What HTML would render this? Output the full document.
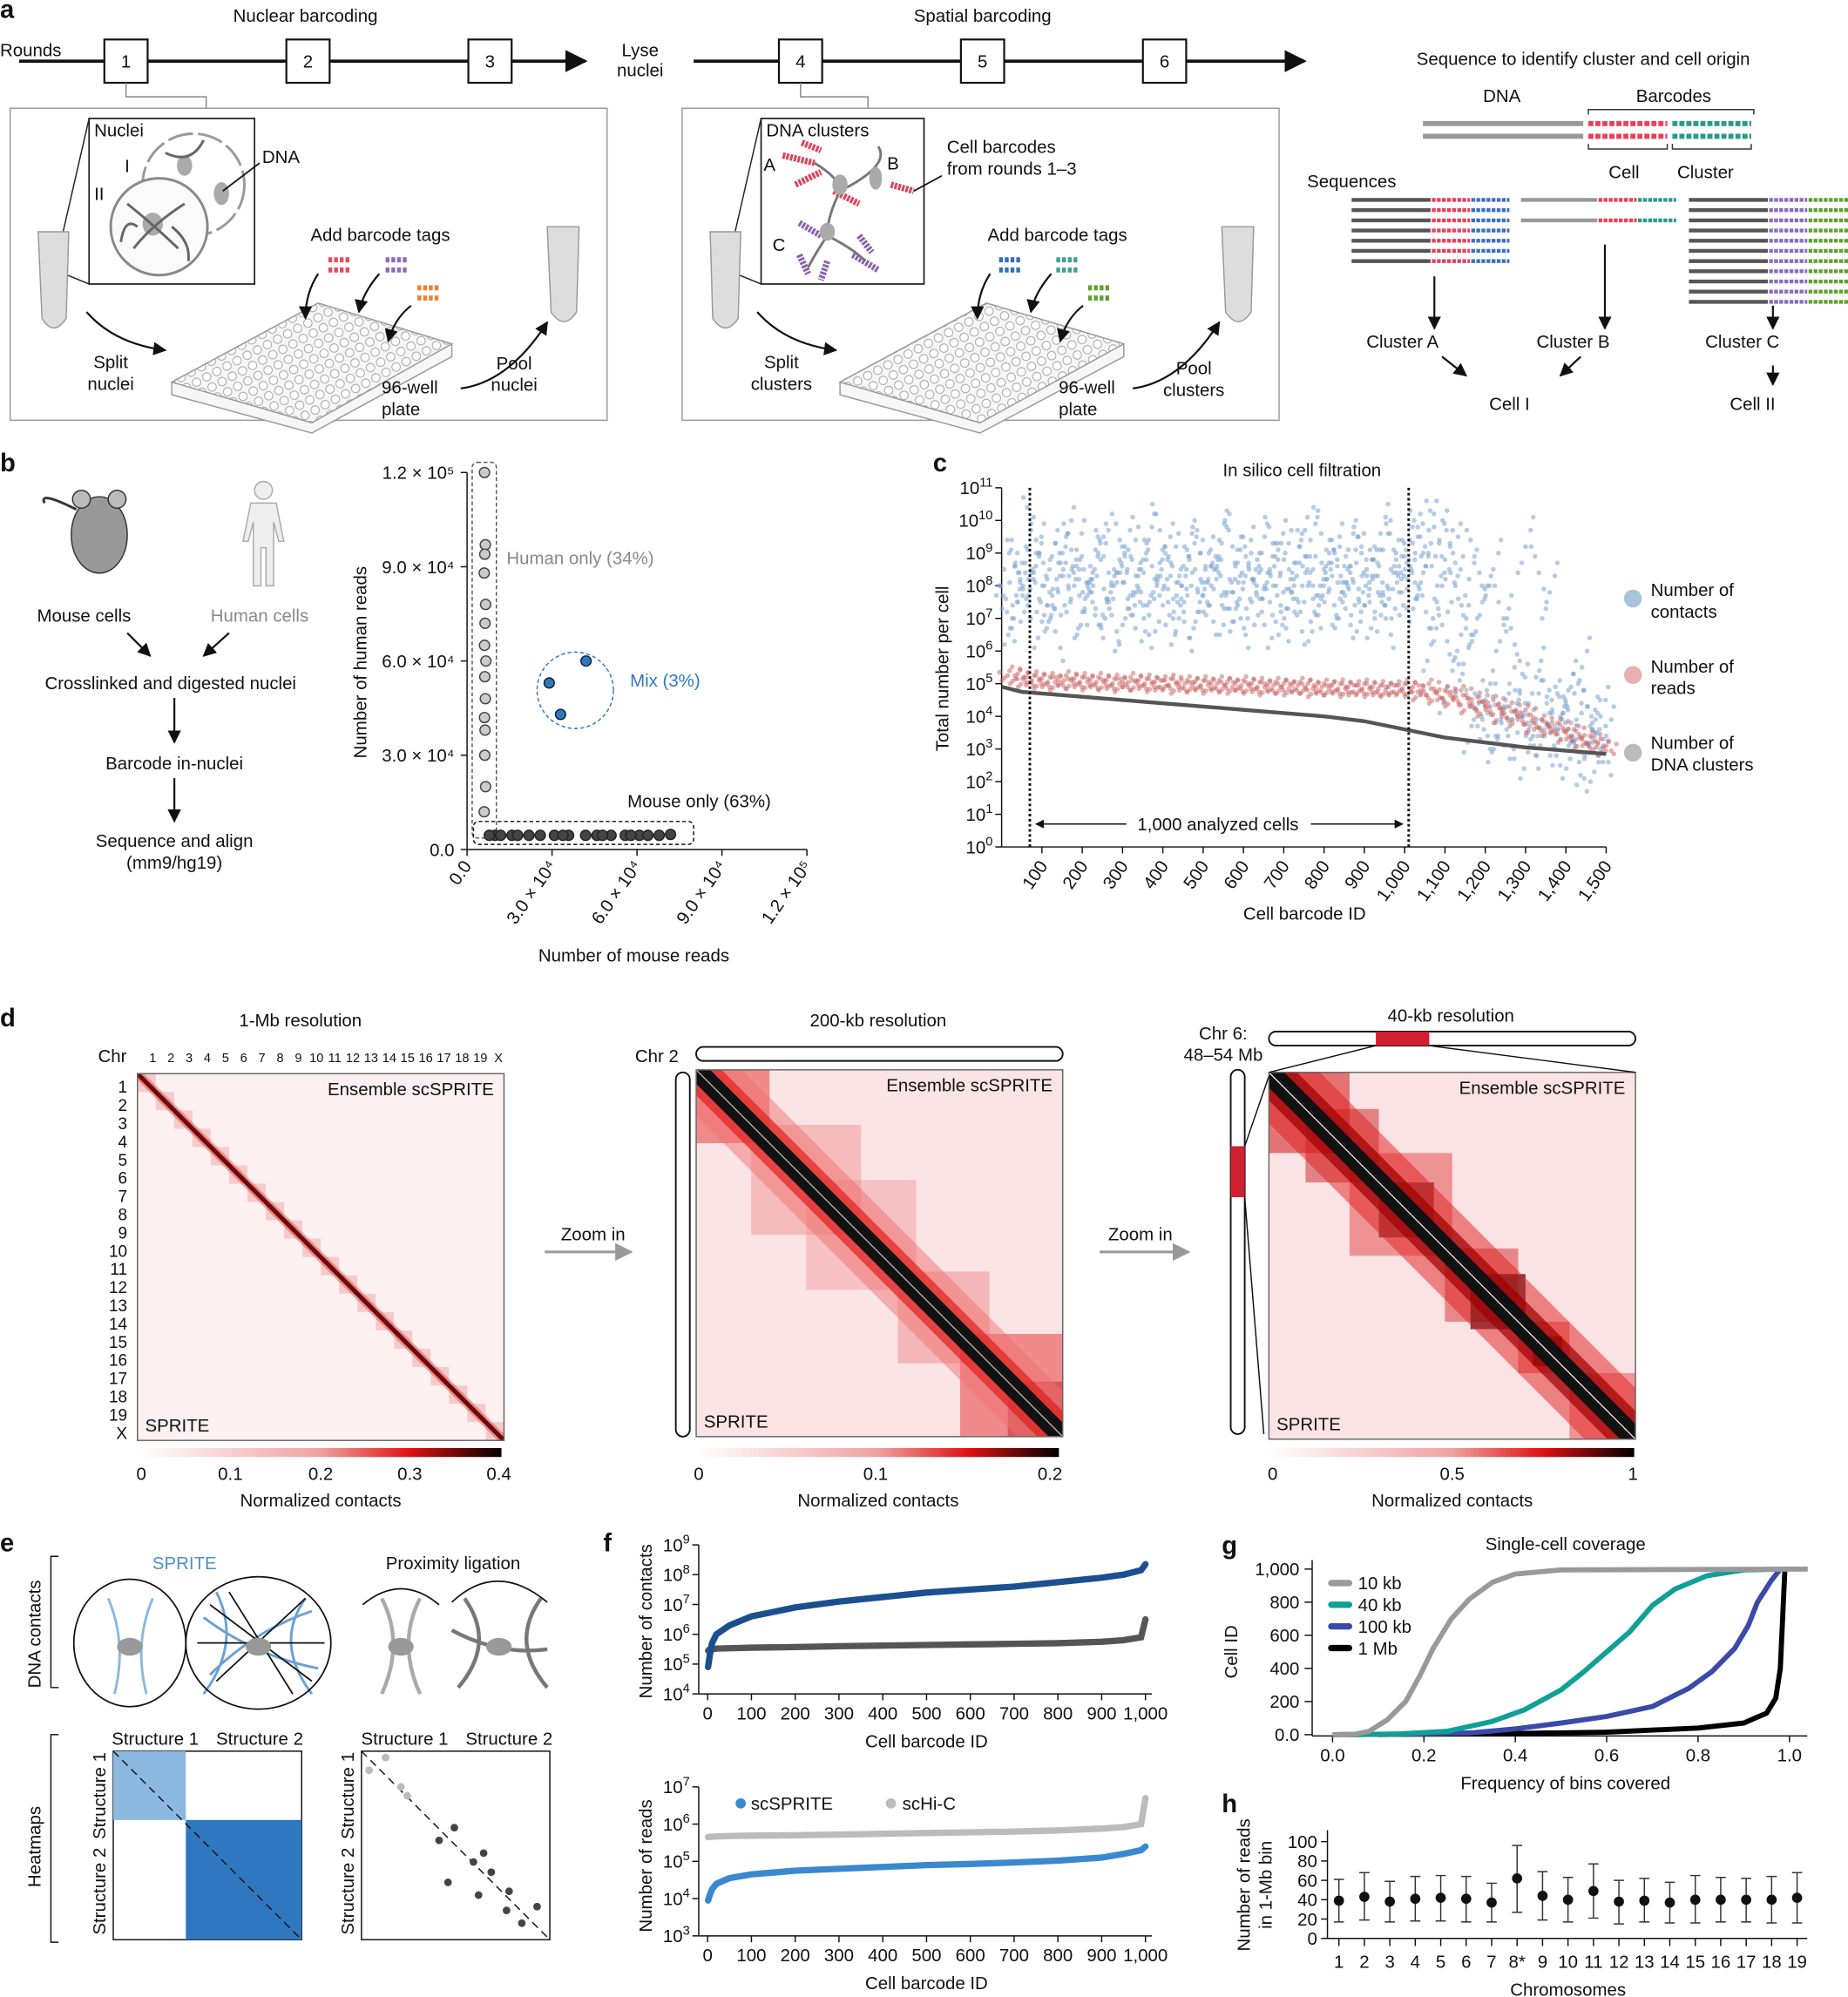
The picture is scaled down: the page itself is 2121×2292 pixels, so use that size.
<!DOCTYPE html>
<html><head><meta charset="utf-8"><style>
html,body{margin:0;padding:0;background:#fff}
svg{display:block;font-family:"Liberation Sans",sans-serif}
text{fill:#111}
</style></head><body>
<svg id="fig" width="2121" height="2292" viewBox="0 0 1452 1568" preserveAspectRatio="none" xmlns="http://www.w3.org/2000/svg" font-size="14">
<defs>
<marker id="ah" viewBox="0 0 10 10" refX="9" refY="5" markerWidth="7" markerHeight="7" orient="auto"><path d="M0,0L10,5L0,10z" fill="#111"/></marker>
<marker id="ahg" viewBox="0 0 10 10" refX="9" refY="5" markerWidth="7" markerHeight="7" orient="auto"><path d="M0,0L10,5L0,10z" fill="#999"/></marker>
<linearGradient id="cb1" x1="0" x2="1"><stop offset="0" stop-color="#fff"/><stop offset="0.5" stop-color="#f0a0a0"/><stop offset="0.75" stop-color="#e01010"/><stop offset="1" stop-color="#000"/></linearGradient>
<pattern id="wells" width="9" height="9" patternUnits="userSpaceOnUse" patternTransform="rotate(-28)"><rect width="9" height="9" fill="#f6f6f6"/><circle cx="4.5" cy="4.5" r="3.3" fill="#fff" stroke="#aaa" stroke-width="0.7"/></pattern>
</defs>

<!-- PANEL A -->
<g>
<text x="0" y="14" font-size="20" font-weight="bold">a</text>
<text x="240" y="17" text-anchor="middle">Nuclear barcoding</text>
<text x="772" y="17" text-anchor="middle">Spatial barcoding</text>
<text x="0" y="44">Rounds</text>
<line x1="15" y1="48" x2="460" y2="48" stroke="#111" stroke-width="2.5" marker-end="url(#ah)"/>
<line x1="545" y1="48" x2="1025" y2="48" stroke="#111" stroke-width="2.5" marker-end="url(#ah)"/>
<text x="503" y="44" text-anchor="middle">Lyse</text><text x="503" y="60" text-anchor="middle">nuclei</text>
<g>
<rect x="82" y="31" width="34" height="34" fill="#fff" stroke="#111" stroke-width="1.5"/><text x="99" y="53" text-anchor="middle">1</text>
<rect x="225" y="31" width="34" height="34" fill="#fff" stroke="#111" stroke-width="1.5"/><text x="242" y="53" text-anchor="middle">2</text>
<rect x="368" y="31" width="34" height="34" fill="#fff" stroke="#111" stroke-width="1.5"/><text x="385" y="53" text-anchor="middle">3</text>
<rect x="612" y="31" width="34" height="34" fill="#fff" stroke="#111" stroke-width="1.5"/><text x="629" y="53" text-anchor="middle">4</text>
<rect x="755" y="31" width="34" height="34" fill="#fff" stroke="#111" stroke-width="1.5"/><text x="772" y="53" text-anchor="middle">5</text>
<rect x="898" y="31" width="34" height="34" fill="#fff" stroke="#111" stroke-width="1.5"/><text x="915" y="53" text-anchor="middle">6</text>
</g>
<polyline points="99,65 99,76 162,76 162,85" fill="none" stroke="#888"/>
<polyline points="629,65 629,76 682,76 682,85" fill="none" stroke="#888"/>
<rect x="8" y="85" width="469" height="245" fill="none" stroke="#999"/>
<rect x="536" y="85" width="469" height="245" fill="none" stroke="#999"/>
<rect x="70" y="93" width="130" height="130" fill="#fff" stroke="#222" stroke-width="1.2"/>
<path d="M70,93L42,215M70,223L38,210" stroke="#222" fill="none"/>
<text x="74" y="107">Nuclei</text><text x="206" y="128">DNA</text><text x="98" y="135">I</text><text x="74" y="157">II</text>
<circle cx="152" cy="145" r="40" fill="none" stroke="#999" stroke-width="2" stroke-dasharray="20,4"/>
<circle cx="125" cy="178" r="38" fill="#fafafa" stroke="#888" stroke-width="2"/>
<ellipse cx="145" cy="130" rx="6" ry="8" fill="#aaa"/><ellipse cx="174" cy="152" rx="6" ry="9" fill="#aaa"/><ellipse cx="120" cy="176" rx="8" ry="9" fill="#aaa"/>
<path d="M100,160 Q120,176 140,195 M105,195 Q120,176 145,160 M130,120 Q150,130 160,110 M135,178 Q150,190 148,205 M108,178 Q98,170 95,190" stroke="#666" stroke-width="2" fill="none"/>
<path d="M204,128 L175,150" stroke="#111" stroke-width="1.2"/>
<rect x="598" y="93" width="128" height="130" fill="#fff" stroke="#222" stroke-width="1.2"/>
<path d="M598,93L570,215M598,223L566,210" stroke="#222" fill="none"/>
<text x="602" y="107">DNA clusters</text><text x="600" y="134">A</text><text x="697" y="133">B</text><text x="607" y="197">C</text>
<text x="744" y="120">Cell barcodes</text><text x="744" y="137">from rounds 1–3</text>
<path d="M740,138 L718,150" stroke="#111" stroke-width="1.2"/>
<g stroke-width="5" fill="none">
<path d="M615,122 L640,128 M625,145 L645,135 M655,150 L675,160 M700,145 L718,150 M630,112 L645,118" stroke="#e0405a" stroke-dasharray="2,1"/>
<path d="M628,175 L645,185 M628,200 L635,215 M650,205 L645,220 M670,200 L690,212 M675,185 L685,198" stroke="#8a60b0" stroke-dasharray="2,1"/>
</g>
<path d="M640,128 Q660,140 660,150 Q650,170 650,185 M660,150 Q700,130 690,115 M650,185 Q640,200 635,210 M650,185 Q670,195 680,205" stroke="#777" stroke-width="2" fill="none"/>
<ellipse cx="660" cy="145" rx="6" ry="8" fill="#aaa"/><ellipse cx="688" cy="140" rx="5" ry="9" fill="#aaa"/><ellipse cx="650" cy="182" rx="6" ry="7" fill="#aaa"/>
<g fill="#ddd" stroke="#999">
<path d="M30,182 L54,182 L52,250 Q42,265 33,250 Z"/><path d="M430,178 L455,178 L453,245 Q443,260 433,245 Z"/>
<path d="M558,182 L582,182 L580,250 Q570,265 560,250 Z"/><path d="M960,178 L985,178 L983,245 Q973,260 963,245 Z"/>
</g>
<g stroke="#999">
<path d="M135,300 L250,238 L355,270 L355,280 L245,340 L135,310 Z" fill="#f6f6f6"/>
<path d="M135,300 L250,238 L355,270 L245,332 Z" fill="url(#wells)"/>
<path d="M660,300 L775,238 L883,270 L883,280 L770,340 L660,310 Z" fill="#f6f6f6"/>
<path d="M660,300 L775,238 L883,270 L770,332 Z" fill="url(#wells)"/>
</g>
<text x="244" y="189">Add barcode tags</text><text x="776" y="189">Add barcode tags</text>
<g stroke-width="4" stroke-dasharray="3,1.5">
<path d="M258,204h18M258,212h18" stroke="#e84a5f"/><path d="M303,204h18M303,212h18" stroke="#8a6ac0"/><path d="M328,226h18M328,234h18" stroke="#f08030"/>
<path d="M785,204h18M785,212h18" stroke="#2f70c0"/><path d="M830,204h18M830,212h18" stroke="#40a090"/><path d="M855,226h18M855,234h18" stroke="#60a030"/>
</g>
<g fill="none" stroke="#111" stroke-width="1.5" marker-end="url(#ah)">
<path d="M250,215 Q240,230 240,250"/><path d="M298,215 Q285,230 282,245"/><path d="M323,240 Q310,250 305,268"/>
<path d="M778,215 Q768,230 768,250"/><path d="M826,215 Q813,230 810,245"/><path d="M851,240 Q838,250 833,268"/>
<path d="M68,245 Q90,270 130,275"/><path d="M362,305 Q400,300 430,253"/>
<path d="M595,245 Q617,270 657,275"/><path d="M890,305 Q928,300 958,253"/>
</g>
<text x="87" y="289" text-anchor="middle">Split</text><text x="87" y="306" text-anchor="middle">nuclei</text>
<text x="322" y="309" text-anchor="middle">96-well</text><text x="315" y="326" text-anchor="middle">plate</text>
<text x="404" y="290" text-anchor="middle">Pool</text><text x="404" y="307" text-anchor="middle">nuclei</text>
<text x="614" y="289" text-anchor="middle">Split</text><text x="614" y="306" text-anchor="middle">clusters</text>
<text x="854" y="309" text-anchor="middle">96-well</text><text x="847" y="326" text-anchor="middle">plate</text>
<text x="938" y="294" text-anchor="middle">Pool</text><text x="938" y="311" text-anchor="middle">clusters</text>
<text x="1244" y="51" text-anchor="middle">Sequence to identify cluster and cell origin</text>
<text x="1180" y="80" text-anchor="middle">DNA</text><text x="1315" y="80" text-anchor="middle">Barcodes</text>
<path d="M1248,90V86H1378V90" fill="none" stroke="#333"/>
<rect x="1118" y="95" width="126" height="4" fill="#999"/><rect x="1118" y="105" width="126" height="4" fill="#999"/>
<g stroke-width="4" stroke-dasharray="4,1.5"><path d="M1248,97h62M1248,107h62" stroke="#e8405a"/><path d="M1314,97h62M1314,107h62" stroke="#2a9a88"/></g>
<path d="M1248,113V117H1310V113M1314,113V117H1376V113" fill="none" stroke="#333"/>
<text x="1276" y="140" text-anchor="middle">Cell</text><text x="1340" y="140" text-anchor="middle">Cluster</text>
<text x="1027" y="147">Sequences</text>
<g stroke-width="3">
<path d="M1062,157h62M1062,165h62M1062,173h62M1062,181h62M1062,189h62M1062,197h62M1062,205h62" stroke="#555"/>
<path d="M1125,157h30M1125,165h30M1125,173h30M1125,181h30M1125,189h30M1125,197h30M1125,205h30" stroke="#e8405a" stroke-dasharray="3,1"/>
<path d="M1156,157h30M1156,165h30M1156,173h30M1156,181h30M1156,189h30M1156,197h30M1156,205h30" stroke="#3a70c0" stroke-dasharray="3,1"/>
<path d="M1195,157h60M1195,173h60" stroke="#999"/><path d="M1256,157h30M1256,173h30" stroke="#e8405a" stroke-dasharray="3,1"/><path d="M1287,157h30M1287,173h30" stroke="#2a9a88" stroke-dasharray="3,1"/>
<path d="M1327,157h62M1327,165h62M1327,173h62M1327,181h62M1327,189h62M1327,197h62M1327,205h62M1327,213h62M1327,221h62M1327,229h62M1327,237h62" stroke="#555"/>
<path d="M1390,157h30M1390,165h30M1390,173h30M1390,181h30M1390,189h30M1390,197h30M1390,205h30M1390,213h30M1390,221h30M1390,229h30M1390,237h30" stroke="#8a6ac0" stroke-dasharray="3,1"/>
<path d="M1421,157h31M1421,165h31M1421,173h31M1421,181h31M1421,189h31M1421,197h31M1421,205h31M1421,213h31M1421,221h31M1421,229h31M1421,237h31" stroke="#60a030" stroke-dasharray="3,1"/>
</g>
<g fill="none" stroke="#111" stroke-width="1.5" marker-end="url(#ah)">
<path d="M1127,217V258"/><path d="M1261,192V258"/><path d="M1393,240V258"/>
<path d="M1133,280L1152,295"/><path d="M1242,280L1226,295"/><path d="M1393,287V302"/>
</g>
<text x="1102" y="273" text-anchor="middle">Cluster A</text><text x="1236" y="273" text-anchor="middle">Cluster B</text><text x="1369" y="273" text-anchor="middle">Cluster C</text>
<text x="1186" y="322" text-anchor="middle">Cell I</text><text x="1377" y="322" text-anchor="middle">Cell II</text>
</g>

<!-- PANEL B -->
<g>
<text x="0" y="370" font-size="20" font-weight="bold">b</text>
<g><ellipse cx="78" cy="420" rx="22" ry="30" fill="#999" stroke="#333"/><circle cx="64" cy="392" r="7" fill="#bbb" stroke="#333"/><circle cx="92" cy="392" r="7" fill="#bbb" stroke="#333"/><path d="M60,400 Q30,385 35,395" fill="none" stroke="#333" stroke-width="2"/></g>
<g fill="#eee" stroke="#aaa"><circle cx="207" cy="385" r="7"/><path d="M197,395h20l6,30h-4l-4-15v50h-6v-30h-4v30h-6v-50l-4,15h-4z"/></g>
<text x="66" y="488" text-anchor="middle">Mouse cells</text><text x="204" y="488" text-anchor="middle" style="fill:#888">Human cells</text>
<g fill="none" stroke="#111" stroke-width="1.5" marker-end="url(#ah)"><path d="M100,497L118,515"/><path d="M180,497L160,515"/><path d="M137,548V583"/><path d="M137,611V645"/></g>
<text x="134" y="541" text-anchor="middle">Crosslinked and digested nuclei</text>
<text x="137" y="604" text-anchor="middle">Barcode in-nuclei</text>
<text x="137" y="665" text-anchor="middle">Sequence and align</text><text x="137" y="682" text-anchor="middle">(mm9/hg19)</text>
<g id="bchart"></g>
</g>

<!-- PANEL C -->
<g>
<text x="733" y="370" font-size="20" font-weight="bold">c</text>
<text x="1023" y="374" text-anchor="middle">In silico cell filtration</text>
<g id="cchart"></g>
<g>
<circle cx="1283" cy="470" r="7" fill="#a8c4dc"/><text x="1297" y="468">Number of</text><text x="1297" y="485">contacts</text>
<circle cx="1283" cy="530" r="7" fill="#e8b0b0"/><text x="1297" y="528">Number of</text><text x="1297" y="545">reads</text>
<circle cx="1283" cy="591" r="7" fill="#bbb"/><text x="1297" y="588">Number of</text><text x="1297" y="605">DNA clusters</text>
</g>
</g>

<!-- PANEL D -->
<g>
<text x="0" y="806" font-size="20" font-weight="bold">d</text>
<text x="236" y="806" text-anchor="middle">1-Mb resolution</text>
<text x="690" y="806" text-anchor="middle">200-kb resolution</text>
<text x="1140" y="802" text-anchor="middle">40-kb resolution</text>
<g id="dmaps"></g>
<text x="77" y="834">Chr</text>
<text x="499" y="834">Chr 2</text>
<text x="942" y="816">Chr 6:</text><text x="930" y="833">48–54 Mb</text>
<rect x="547" y="822" width="288" height="11" rx="5.5" fill="#fff" stroke="#111" stroke-width="1.3"/>
<rect x="531" y="842" width="11" height="286" rx="5.5" fill="#fff" stroke="#111" stroke-width="1.3"/>
<rect x="997" y="810" width="288" height="11" rx="5.5" fill="#fff" stroke="#111" stroke-width="1.3"/><rect x="1081" y="810" width="42" height="11" fill="#d0202f"/>
<path d="M1081,821L997,842M1123,821L1285,842" stroke="#111" fill="none"/>
<rect x="967" y="840" width="11" height="286" rx="5.5" fill="#fff" stroke="#111" stroke-width="1.3"/><rect x="967" y="900" width="11" height="40" fill="#d0202f"/>
<path d="M978,900L997,845M978,940L993,1126" stroke="#111" fill="none"/>
<text x="466" y="974" text-anchor="middle">Zoom in</text><line x1="428" y1="983" x2="496" y2="983" stroke="#999" stroke-width="2" marker-end="url(#ahg)"/>
<text x="896" y="974" text-anchor="middle">Zoom in</text><line x1="864" y1="983" x2="934" y2="983" stroke="#999" stroke-width="2" marker-end="url(#ahg)"/>
<g>
<rect x="110" y="1137" width="284" height="7" fill="url(#cb1)"/><rect x="548" y="1137" width="284" height="7" fill="url(#cb1)"/><rect x="998" y="1137" width="286" height="7" fill="url(#cb1)"/>
<text x="111" y="1162" text-anchor="middle">0</text><text x="181" y="1162" text-anchor="middle">0.1</text><text x="252" y="1162" text-anchor="middle">0.2</text><text x="322" y="1162" text-anchor="middle">0.3</text><text x="392" y="1162" text-anchor="middle">0.4</text>
<text x="549" y="1162" text-anchor="middle">0</text><text x="688" y="1162" text-anchor="middle">0.1</text><text x="825" y="1162" text-anchor="middle">0.2</text>
<text x="1000" y="1162" text-anchor="middle">0</text><text x="1141" y="1162" text-anchor="middle">0.5</text><text x="1283" y="1162" text-anchor="middle">1</text>
<text x="252" y="1183" text-anchor="middle">Normalized contacts</text><text x="690" y="1183" text-anchor="middle">Normalized contacts</text><text x="1141" y="1183" text-anchor="middle">Normalized contacts</text>
</g>
</g>

<!-- PANEL E -->
<g>
<text x="0" y="1218" font-size="20" font-weight="bold">e</text>
<path d="M46,1222H40V1325H46M46,1362H40V1525H46" fill="none" stroke="#111"/>
<text transform="translate(32,1283) rotate(-90)" text-anchor="middle">DNA contacts</text>
<text transform="translate(32,1450) rotate(-90)" text-anchor="middle">Heatmaps</text>
<text x="145" y="1232" text-anchor="middle" style="fill:#4a90d0">SPRITE</text>
<text x="356" y="1232" text-anchor="middle">Proximity ligation</text>
<g fill="none" stroke-width="2">
<path d="M85,1255Q100,1290 90,1330M120,1255Q105,1290 115,1330" stroke="#8ab8e0"/>
<path d="M170,1250Q190,1290 160,1330M240,1255Q215,1290 245,1330M160,1270Q200,1300 250,1310M165,1315Q200,1280 245,1265" stroke="#6aa0d8"/>
<path d="M300,1255Q318,1290 300,1330M330,1255Q312,1290 330,1330" stroke="#aaa" stroke-width="3"/>
<path d="M365,1255Q390,1290 360,1325M425,1255Q400,1290 430,1325M355,1280Q392,1300 430,1295" stroke="#777" stroke-width="3"/>
</g>
<g fill="none" stroke="#111" stroke-width="1.2"><ellipse cx="102" cy="1290" rx="44" ry="50"/><ellipse cx="203" cy="1290" rx="57" ry="52"/><path d="M165,1260L245,1320M170,1320L240,1255M180,1250L230,1330M155,1290H255"/><path d="M285,1260Q315,1235 345,1260"/><path d="M355,1258Q390,1225 430,1258"/></g>
<ellipse cx="102" cy="1293" rx="10" ry="7" fill="#999"/><ellipse cx="203" cy="1293" rx="10" ry="7" fill="#999"/><ellipse cx="315" cy="1293" rx="10" ry="7" fill="#999"/><ellipse cx="392" cy="1293" rx="10" ry="7" fill="#999"/>
<text x="122" y="1370" text-anchor="middle">Structure 1</text><text x="204" y="1370" text-anchor="middle">Structure 2</text>
<text x="318" y="1370" text-anchor="middle">Structure 1</text><text x="400" y="1370" text-anchor="middle">Structure 2</text>
<rect x="89" y="1375" width="148" height="148" fill="#fff" stroke="#111"/><rect x="89" y="1375" width="57" height="54" fill="#8ab8e0"/><rect x="146" y="1429" width="91" height="94" fill="#2f78c0"/>
<line x1="89" y1="1375" x2="237" y2="1523" stroke="#111" stroke-dasharray="6,4"/>
<rect x="284" y="1375" width="148" height="148" fill="#fff" stroke="#111"/>
<line x1="284" y1="1375" x2="432" y2="1523" stroke="#111" stroke-dasharray="6,4"/>
<g fill="#444"><circle cx="290" cy="1390" r="3" fill="#bbb"/><circle cx="303" cy="1380" r="3" fill="#bbb"/><circle cx="315" cy="1403" r="3" fill="#bbb"/><circle cx="320" cy="1410" r="3" fill="#bbb"/><circle cx="345" cy="1445" r="3"/><circle cx="357" cy="1435" r="3"/><circle cx="352" cy="1478" r="3"/><circle cx="372" cy="1462" r="3"/><circle cx="380" cy="1455" r="3"/><circle cx="376" cy="1488" r="3"/><circle cx="386" cy="1470" r="3"/><circle cx="400" cy="1485" r="3"/><circle cx="398" cy="1500" r="3"/><circle cx="410" cy="1510" r="3"/><circle cx="422" cy="1497" r="3"/></g>
<text transform="translate(83,1410) rotate(-90)" text-anchor="middle">Structure 1</text><text transform="translate(83,1485) rotate(-90)" text-anchor="middle">Structure 2</text>
<text transform="translate(278,1410) rotate(-90)" text-anchor="middle">Structure 1</text><text transform="translate(278,1485) rotate(-90)" text-anchor="middle">Structure 2</text>
</g>

<text x="474" y="1218" font-size="20" font-weight="bold">f</text>
<g id="fchart"></g>
<text x="960" y="1220" font-size="20" font-weight="bold">g</text>
<text x="1230" y="1217" text-anchor="middle">Single-cell coverage</text>
<g id="gchart"></g>
<text x="960" y="1423" font-size="20" font-weight="bold">h</text>
<g id="hchart"></g>
</svg>
<script>
// panel b
const bHumanOnlyMouse=[300,600,400,200,700,500,300,800,400,600,300,500,400,700,200];
const bHumanOnlyHuman=[120000,97000,94000,88000,78000,72000,65000,60000,55000,48000,42000,38000,30000,20000,12000];
const bMouseOnlyMouse=[4000,6000,10000,16000,20000,25000,30000,36000,40000,45000,50000,55000,58000,62000,66000,2000,12000,28000,42000,52000];
const bMouseOnlyHuman=[4500,4500,4500,4500,4500,4500,4500,4500,4500,4500,4500,4500,4500,4500,4800,4500,4500,4500,4500,4500];
const bMixMouse=[29000,42000,33000];
const bMixHuman=[53000,60000,43000];
const bXTicks=["0.0","3.0 × 10⁴","6.0 × 10⁴","9.0 × 10⁴","1.2 × 10⁵"];
const bXTickVals=[0,30000,60000,90000,120000];
const bYTickVals=[0,30000,60000,90000,120000];
const bYTicks=["0.0","3.0 × 10⁴","6.0 × 10⁴","9.0 × 10⁴","1.2 × 10⁵"];
// panel c (log10 values)
const cContacts=[8.1,7.5,9.2,8.4,6.9,8.8,7.8,9.5,8.0,7.2,8.6,9.0,7.6,8.3,6.8,8.9,7.9,9.3,8.2,7.4,8.7,7.0,9.1,8.5,7.7,8.0,9.4,7.3,8.6,8.1,7.5,9.0,8.4,6.9,8.8,7.8,9.2,8.0,7.1,8.5,8.3,7.6,9.1,8.7,7.4,8.2,9.6,7.9,8.4,8.9,9.3,8.1,9.7,7.5,8.8,9.0,6.5,8.2,7.0,4.5,8.5,3.8,5.0,3.5,9.2,4.2,3.9,7.8,3.6,4.4,3.2,5.5,3.7,2.8,3.4];
const cContacts2=[7.2,8.6,7.9,9.9,7.6,8.2,6.6,8.5,9.1,7.7,8.0,7.3,8.9,7.1,9.4,7.6,8.3,7.0,8.6,9.7,7.5,8.1,6.9,8.4,9.0,7.4,8.2,7.8,9.2,7.0,8.7,7.7,8.0,9.3,7.2,8.5,7.1,8.9,7.6,9.6,7.9,8.6,7.3,8.1,9.0,7.5,8.3,7.0,9.1,7.8,8.6,9.5,7.2,9.8,6.8,9.2,7.6,4.8,8.9,3.9,4.3,7.5,3.6,6.2,4.0,3.3,8.4,4.6,3.0,4.1,3.8,2.6,4.3,3.5,3.1];
const cContacts3=[8.5,7.0,8.2,7.7,9.0,8.0,7.4,8.7,7.9,9.1,7.3,8.4,8.8,7.5,8.1,9.2,7.8,8.5,7.1,8.3,9.0,7.6,8.0,8.8,7.2,8.6,7.9,9.3,8.2,7.4,8.9,8.1,7.6,8.4,9.1,7.3,8.7,8.0,9.4,7.7,8.2,9.0,7.5,8.6,7.9,8.3,7.2,9.1,8.5,7.8,7.9,9.0,8.4,6.2,9.4,4.9,8.0,5.6,3.7,7.1,4.1,3.4,6.8,3.9,4.7,2.9,5.2,3.6,4.2,3.3,4.8,3.9,2.7,3.6,4.0];
const cReads=[5.3,5.2,5.1,5.15,5.05,5.1,5.0,5.15,5.05,5.1,5.0,5.1,5.0,5.05,4.95,5.1,5.0,5.05,4.95,5.0,5.05,4.9,5.0,4.95,5.0,4.9,5.0,4.95,4.9,5.0,4.9,4.95,4.85,4.95,4.9,4.85,4.95,4.9,4.8,4.9,4.85,4.9,4.8,4.85,4.9,4.8,4.85,4.8,4.85,4.9,4.8,4.7,4.9,4.6,4.7,4.5,4.7,4.3,4.5,4.2,4.4,4.0,4.2,3.9,4.1,3.7,3.8,3.6,3.7,3.4,3.5,3.2,3.3,3.1,3.0];
const cClusterIds=[1,50,100,200,300,400,500,600,700,800,900,1000,1100,1200,1300,1400,1500];
const cClusters=[4.9,4.75,4.7,4.6,4.5,4.4,4.3,4.2,4.1,4.0,3.85,3.6,3.35,3.2,3.05,2.95,2.85];
const cXTickVals=[100,200,300,400,500,600,700,800,900,1000,1100,1200,1300,1400,1500];
const cXTicks=["100","200","300","400","500","600","700","800","900","1,000","1,100","1,200","1,300","1,400","1,500"];
const cYTickVals=[0,1,2,3,4,5,6,7,8,9,10,11];
// panel f
const fIds=[1,5,10,20,50,100,200,300,400,500,600,700,800,900,950,990,1000];
const fContactsSprite=[4.9,5.3,5.7,6.0,6.3,6.6,6.9,7.1,7.25,7.4,7.5,7.6,7.75,7.9,8.0,8.15,8.35];
const fContactsHiC=[5.45,5.5,5.5,5.52,5.53,5.55,5.57,5.6,5.62,5.64,5.66,5.68,5.7,5.75,5.8,5.9,6.5];
const fReadsSprite=[3.95,4.1,4.25,4.4,4.55,4.65,4.75,4.8,4.85,4.9,4.93,4.97,5.02,5.1,5.2,5.3,5.4];
const fReadsHiC=[5.65,5.66,5.66,5.67,5.68,5.69,5.7,5.72,5.74,5.76,5.78,5.8,5.83,5.88,5.92,6.0,6.7];
const fXTickVals=[0,100,200,300,400,500,600,700,800,900,1000];
const fXTicks=["0","100","200","300","400","500","600","700","800","900","1,000"];
// panel g
const gNames=["10 kb","40 kb","100 kb","1 Mb"];
const gColors=["#999999","#10a098","#3a4aa8","#000000"];
const gFreq10=[0,0.05,0.08,0.12,0.16,0.19,0.22,0.26,0.3,0.35,0.4,0.5,1.04];
const gCell10=[0,3,20,90,200,350,520,700,820,920,970,995,1000];
const gFreq40=[0.05,0.15,0.25,0.35,0.42,0.5,0.55,0.6,0.65,0.7,0.75,0.82,0.9,1.0];
const gCell40=[0,5,20,80,150,270,380,500,620,780,880,960,995,1000];
const gFreq100=[0.1,0.3,0.4,0.5,0.6,0.7,0.78,0.83,0.88,0.91,0.93,0.96,0.98];
const gCell100=[0,10,35,70,110,170,280,380,520,660,800,930,1000];
const gFreq1M=[0.0,0.35,0.6,0.8,0.9,0.95,0.97,0.98,0.985,0.99];
const gCell1M=[0,5,15,40,70,130,220,400,700,1000];
const gXTickVals=[0,0.2,0.4,0.6,0.8,1.0];
const gXTicks=["0.0","0.2","0.4","0.6","0.8","1.0"];
const gYTickVals=[0,200,400,600,800,1000];
const gYTicks=["0.0","200","400","600","800","1,000"];
// panel h
const hChroms=["1","2","3","4","5","6","7","8*","9","10","11","12","13","14","15","16","17","18","19"];
const hMean=[39,43,38,41,42,41,37,62,44,40,49,38,39,37,40,40,40,40,42];
const hUpper=[61,68,59,64,65,64,57,96,69,63,77,60,62,58,65,63,62,64,68];
const hLower=[17,19,17,18,18,17,17,27,19,17,21,15,17,16,16,17,17,16,16];
const hYTickVals=[0,20,40,60,80,100];

const NS="http://www.w3.org/2000/svg";
function mk(parent,tag,attrs,txt){const e=document.createElementNS(NS,tag);for(const k in attrs)e.setAttribute(k,attrs[k]);if(txt!==undefined)e.textContent=txt;parent.appendChild(e);return e;}
function lin(d0,d1,r0,r1){return v=>r0+(v-d0)/(d1-d0)*(r1-r0);}

// PANEL B
(function(){
const g=document.getElementById('bchart');
const X=lin(0,120000,367,634),Y=lin(0,120000,667,371);
mk(g,'line',{x1:367,y1:371,x2:367,y2:667,stroke:'#111'});
mk(g,'line',{x1:367,y1:667,x2:634,y2:667,stroke:'#111'});
bYTickVals.forEach((v,i)=>{mk(g,'line',{x1:362,y1:Y(v),x2:367,y2:Y(v),stroke:'#111'});const t=mk(g,'text',{x:357,y:Y(v)+5,'text-anchor':'end'},bYTicks[i]);});
bXTickVals.forEach((v,i)=>{mk(g,'line',{x1:X(v),y1:667,x2:X(v),y2:672,stroke:'#111'});const t=mk(g,'text',{x:X(v)+4,y:680,'text-anchor':'end',transform:`rotate(-55 ${X(v)+4} 680)`},bXTicks[i]);});
mk(g,'text',{x:498,y:755,'text-anchor':'middle'},'Number of mouse reads');
mk(g,'text',{transform:'translate(288,520) rotate(-90)','text-anchor':'middle'},'Number of human reads');
mk(g,'rect',{x:371,y:363,width:19,height:295,rx:4,fill:'none',stroke:'#555','stroke-dasharray':'3,2'});
mk(g,'rect',{x:372,y:645,width:173,height:18,rx:4,fill:'none',stroke:'#111','stroke-dasharray':'3,2'});
mk(g,'circle',{cx:452,cy:542,r:30,fill:'none',stroke:'#2f78c0','stroke-dasharray':'3,2'});
bHumanOnlyMouse.forEach((m,i)=>{const c=mk(g,'circle',{cx:X(m)+13,cy:Y(bHumanOnlyHuman[i]),r:4,fill:'#ccc',stroke:'#444'});});
bMouseOnlyMouse.forEach((m,i)=>{const c=mk(g,'circle',{cx:X(m)+13,cy:Y(bMouseOnlyHuman[i]),r:4,fill:'#444',stroke:'#222'});});
bMixMouse.forEach((m,i)=>{const c=mk(g,'circle',{cx:X(m),cy:Y(bMixHuman[i]),r:4,fill:'#2f78c0',stroke:'#123'});});
mk(g,'text',{x:398,y:443,style:'fill:#888'},'Human only (34%)');
mk(g,'text',{x:495,y:539,style:'fill:#2f78c0'},'Mix (3%)');
mk(g,'text',{x:493,y:634},'Mouse only (63%)');
})();

// PANEL C
(function(){
const g=document.getElementById('cchart');
const X=lin(0,1500,787,1262),Y=lin(0,11,665,383);
mk(g,'line',{x1:787,y1:383,x2:787,y2:665,stroke:'#111'});
mk(g,'line',{x1:787,y1:665,x2:1262,y2:665,stroke:'#111'});
cYTickVals.forEach(v=>{mk(g,'line',{x1:782,y1:Y(v),x2:787,y2:Y(v),stroke:'#111'});const t=mk(g,'text',{x:780,y:Y(v)+5,'text-anchor':'end'});mk(t,'tspan',{},'10');mk(t,'tspan',{dy:-6,'font-size':10},String(v));});
cXTickVals.forEach((v,i)=>{mk(g,'line',{x1:X(v),y1:665,x2:X(v),y2:670,stroke:'#111'});const t=mk(g,'text',{x:X(v)+5,y:680,'text-anchor':'end',transform:`rotate(-55 ${X(v)+5} 680)`},cXTicks[i]);});
mk(g,'text',{x:1025,y:722,'text-anchor':'middle'},'Cell barcode ID');
mk(g,'text',{transform:'translate(745,525) rotate(-90)','text-anchor':'middle'},'Total number per cell');
[cContacts,cContacts2,cContacts3].forEach((arr,k)=>arr.forEach((v,i)=>{const id=(i+1)*20-k*7;[0,0.5,-0.5,0.9,-0.8].forEach((o,j)=>{const c=mk(g,'circle',{cx:X(id)+[0,4,-3,6,-6][j],cy:Y(v+o*(k===1?-1:1)),r:1.9,fill:'#7aa3cf','fill-opacity':0.55});});}));
cReads.forEach((v,i)=>{[[-8,0.05],[-4,-0.12],[0,0.1],[4,-0.05],[8,0.15],[-6,-0.2],[2,0.22],[6,-0.15]].forEach(o=>{const c=mk(g,'circle',{cx:X((i+1)*20)+o[0],cy:Y(v+o[1]),r:1.9,fill:'#c86060','fill-opacity':0.5});});});
const p=mk(g,'polyline',{points:cClusterIds.map((id,i)=>X(id)+','+Y(cClusters[i])).join(' '),fill:'none',stroke:'#555','stroke-width':3});

mk(g,'line',{x1:X(70),y1:383,x2:X(70),y2:665,stroke:'#111','stroke-width':2,'stroke-dasharray':'2,2'});
mk(g,'line',{x1:X(1010),y1:383,x2:X(1010),y2:665,stroke:'#111','stroke-width':2,'stroke-dasharray':'2,2'});
mk(g,'rect',{x:885,y:636,width:145,height:20,fill:'#fff'});
mk(g,'text',{x:957,y:652,'text-anchor':'middle'},'1,000 analyzed cells');
mk(g,'line',{x1:885,y1:647,x2:X(85),y2:647,stroke:'#111','marker-end':'url(#ah)'});
mk(g,'line',{x1:1030,y1:647,x2:X(995),y2:647,stroke:'#111','marker-end':'url(#ah)'});
})();

// PANEL D
(function(){
const g=document.getElementById('dmaps');
function band(m,x,y,s,w,col,op){mk(m,'polygon',{points:`${x},${y} ${x+w},${y} ${x+s},${y+s-w} ${x+s},${y+s} ${x+s-w},${y+s} ${x},${y+w}`,fill:col,'fill-opacity':op});}
function map(x,y,s,bg,blocks,bands,line){
 const m=mk(g,'g',{});
 mk(m,'rect',{x:x,y:y,width:s,height:s,fill:bg});
 blocks.forEach(b=>{mk(m,'rect',{x:x+b[0]*s,y:y+b[0]*s,width:(b[1]-b[0])*s,height:(b[1]-b[0])*s,fill:b[2],'fill-opacity':b[3]});});
 bands.forEach(b=>band(m,x,y,s,b[0],b[1],b[2]));
 if(line)mk(m,'line',{x1:x,y1:y,x2:x+s,y2:y+s,stroke:line,'stroke-width':0.8});
 mk(m,'rect',{x:x,y:y,width:s,height:s,fill:'none',stroke:'#666'});
 mk(m,'text',{x:x+s-8,y:y+17,'text-anchor':'end'},'Ensemble scSPRITE');
 mk(m,'text',{x:x+6,y:y+s-7},'SPRITE');
}
const b1=[];for(let i=0;i<20;i++)b1.push([i/20,(i+1)/20,'#f4b0b0',0.6]);
map(108,843,288,'#fdf0f0',b1,[[5,'#e06060',0.6],[2.5,'#700808',1]],null);
map(547,840,288,'#fbe4e6',[[0,0.2,'#e84040',0.55],[0.15,0.45,'#f08080',0.4],[0.3,0.6,'#f08080',0.35],[0.55,0.8,'#e86060',0.35],[0.72,1,'#e02020',0.45],[0.85,1,'#b01010',0.4]],[[36,'#f07070',0.5],[20,'#e02020',0.7],[11,'#111',1]],'#ccc');
map(997,842,288,'#fbe2e4',[[0,0.22,'#d01818',0.55],[0.1,0.3,'#c01010',0.45],[0.22,0.5,'#e03030',0.45],[0.3,0.45,'#600000',0.55],[0.48,0.68,'#d01818',0.45],[0.55,0.7,'#300000',0.7],[0.68,0.82,'#e02020',0.45],[0.72,0.8,'#200000',0.7],[0.82,1,'#e02020',0.4]],[[40,'#e02020',0.5],[22,'#a00000',0.7],[12,'#111',1]],'#fff');
const chrNames=["1","2","3","4","5","6","7","8","9","10","11","12","13","14","15","16","17","18","19","X"];
chrNames.forEach((c,i)=>{const t=mk(g,'text',{x:120+i*14.3,y:834,'text-anchor':'middle','font-size':10},c);
 const t2=mk(g,'text',{x:100,y:858+i*14.3,'text-anchor':'end','font-size':13},c);});
})();

// PANEL F
(function(){
const g=document.getElementById('fchart');
const X=lin(0,1000,556,900);
function axes(y0,y1,d0,d1,ylab,yc){
 const Y=lin(d0,d1,y0,y1);
 mk(g,'line',{x1:549,y1:y1,x2:549,y2:y0,stroke:'#111'});
 mk(g,'line',{x1:549,y1:y0,x2:905,y2:y0,stroke:'#111'});
 for(let v=d0;v<=d1;v++){mk(g,'line',{x1:544,y1:Y(v),x2:549,y2:Y(v),stroke:'#111'});const t=mk(g,'text',{x:542,y:Y(v)+5,'text-anchor':'end'});mk(t,'tspan',{},'10');mk(t,'tspan',{dy:-6,'font-size':10},String(v));}
 fXTickVals.forEach((v,i)=>{mk(g,'line',{x1:X(v),y1:y0,x2:X(v),y2:y0+5,stroke:'#111'});const t=mk(g,'text',{x:X(v),y:y0+20,'text-anchor':'middle'},fXTicks[i]);});
 mk(g,'text',{x:728,y:y0+42,'text-anchor':'middle'},'Cell barcode ID');
 mk(g,'text',{transform:`translate(512,${yc}) rotate(-90)`,'text-anchor':'middle'},ylab);
 return Y;
}
function series(Y,vals,col,name){const p=mk(g,'polyline',{points:fIds.map((id,i)=>X(id)+','+Y(vals[i])).join(' '),fill:'none',stroke:col,'stroke-width':5,'stroke-linecap':'round'});}
const Y1=axes(1330,1213,4,9,'Number of contacts',1273);
series(Y1,fContactsHiC,'#555','contacts-schic-line');series(Y1,fContactsSprite,'#1a5090','contacts-scsprite-line');
const Y2=axes(1520,1403,3,7,'Number of reads',1465);
series(Y2,fReadsHiC,'#bbb','reads-schic-line');series(Y2,fReadsSprite,'#3a88d0','reads-scsprite-line');
mk(g,'circle',{cx:582,cy:1416,r:4,fill:'#3a88d0'});mk(g,'text',{x:590,y:1421},'scSPRITE');
mk(g,'circle',{cx:700,cy:1416,r:4,fill:'#bbb'});mk(g,'text',{x:709,y:1421},'scHi-C');
})();

// PANEL G
(function(){
const g=document.getElementById('gchart');
const X=lin(0,1,1047,1406),Y=lin(0,1000,1362,1232);
mk(g,'line',{x1:1031,y1:1225,x2:1031,y2:1363,stroke:'#111'});
mk(g,'line',{x1:1031,y1:1363,x2:1420,y2:1363,stroke:'#111'});
gYTickVals.forEach((v,i)=>{mk(g,'line',{x1:1025,y1:Y(v),x2:1031,y2:Y(v),stroke:'#111'});const t=mk(g,'text',{x:1021,y:Y(v)+5,'text-anchor':'end'},gYTicks[i]);});
gXTickVals.forEach((v,i)=>{mk(g,'line',{x1:X(v),y1:1363,x2:X(v),y2:1368,stroke:'#111'});const t=mk(g,'text',{x:X(v),y:1383,'text-anchor':'middle'},gXTicks[i]);});
mk(g,'text',{x:1230,y:1405,'text-anchor':'middle'},'Frequency of bins covered');
mk(g,'text',{transform:'translate(972,1297) rotate(-90)','text-anchor':'middle'},'Cell ID');
const F=[gFreq10,gFreq40,gFreq100,gFreq1M],C=[gCell10,gCell40,gCell100,gCell1M];
for(let k=3;k>=0;k--){const p=mk(g,'polyline',{points:F[k].map((f,i)=>X(f)+','+Y(C[k][i])).join(' '),fill:'none',stroke:gColors[k],'stroke-width':4,'stroke-linejoin':'round'});}
gNames.forEach((n,i)=>{const y=1243+i*17;mk(g,'line',{x1:1046,y1:y,x2:1060,y2:y,stroke:gColors[i],'stroke-width':5,'stroke-linecap':'round'});const t=mk(g,'text',{x:1067,y:y+5},n);});
})();

// PANEL H
(function(){
const g=document.getElementById('hchart');
const X=i=>1052+i*20,Y=lin(0,100,1522,1446);
mk(g,'line',{x1:1043,y1:1437,x2:1043,y2:1522,stroke:'#111'});
mk(g,'line',{x1:1040,y1:1522,x2:1420,y2:1522,stroke:'#111'});
hYTickVals.forEach(v=>{mk(g,'line',{x1:1038,y1:Y(v),x2:1043,y2:Y(v),stroke:'#111'});const t=mk(g,'text',{x:1035,y:Y(v)+5,'text-anchor':'end'},String(v));});
hChroms.forEach((c,i)=>{mk(g,'line',{x1:X(i),y1:1522,x2:X(i),y2:1528,stroke:'#111'});const t=mk(g,'text',{x:X(i),y:1545,'text-anchor':'middle'},c);
 const e=mk(g,'path',{d:`M${X(i)-4},${Y(hUpper[i])}h8M${X(i)},${Y(hUpper[i])}V${Y(hLower[i])}M${X(i)-4},${Y(hLower[i])}h8`,stroke:'#333',fill:'none'});
 const d=mk(g,'circle',{cx:X(i),cy:Y(hMean[i]),r:4,fill:'#111'});});
mk(g,'text',{x:1232,y:1567,'text-anchor':'middle'},'Chromosomes');
mk(g,'text',{transform:'translate(982,1480) rotate(-90)','text-anchor':'middle'},'Number of reads');
mk(g,'text',{transform:'translate(999,1480) rotate(-90)','text-anchor':'middle'},'in 1-Mb bin');
})();
</script>
</body></html>
